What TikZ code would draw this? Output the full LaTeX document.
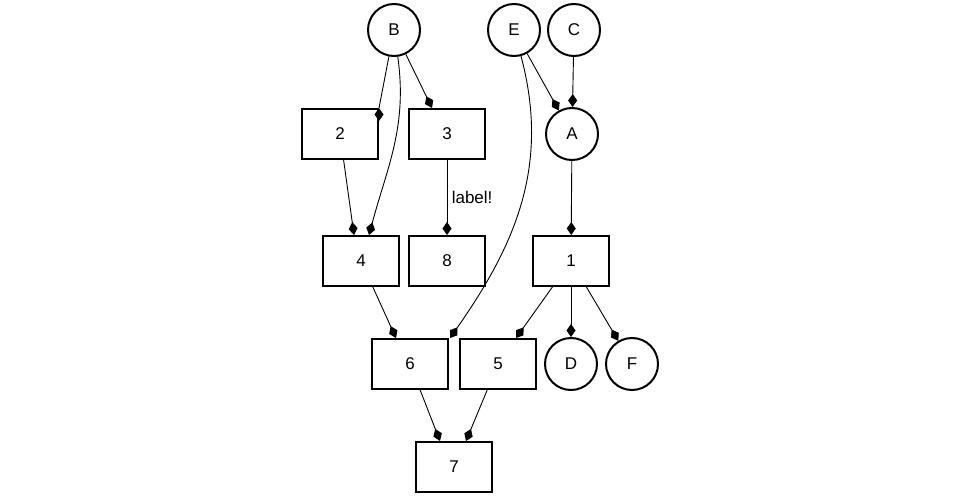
\documentclass[tikz,border=0pt]{standalone}
\usepackage{fontspec}
\setmainfont{Liberation Sans}
\usetikzlibrary{arrows.meta}

\tikzset{
  box/.style={draw, line width=2pt, minimum width=76pt, minimum height=50pt},
  ring/.style={draw, circle, line width=2pt, minimum size=52pt, inner sep=0pt},
  link/.style={line width=0.9pt, -{Diamond[length=13pt,width=9pt]}}
}

\begin{document}
\begin{tikzpicture}[x=1pt, y=-1pt, font=\fontsize{17}{20}\selectfont]
\useasboundingbox (0,0) rectangle (960,500);

% circles
\node[ring] (B) at (394,30) {B};
\node[ring] (E) at (514,30) {E};
\node[ring] (C) at (574,30) {C};
\node[ring] (A) at (572,134) {A};
\node[ring] (D) at (571,364) {D};
\node[ring] (F) at (632,364) {F};

% boxes
\node[box] (n2) at (340,134) {2};
\node[box] (n3) at (447,134) {3};
\node[box] (n4) at (361,261) {4};
\node[box] (n8) at (447,261) {8};
\node[box] (n1) at (571,261) {1};
\node[box] (n6) at (410,364) {6};
\node[box] (n5) at (498,364) {5};
\node[box] (n7) at (454,467) {7};

% edges
\draw[link] (B) -- (n2.north east) ++(0,0);
\draw[link] (B) -- ([xshift=-15pt]n3.north);
\draw[link] (B) to[out=-82,in=75] ([xshift=8pt]n4.north);
\draw[link] (n2) -- ([xshift=-7pt]n4.north);
\draw[link] (n3) -- node[right, xshift=1pt] {label!} (n8);
\draw[link] (E) to[out=-75,in=55] ([xshift=40pt]n6.north);
\draw[link] (E) -- (A);
\draw[link] (C) -- (A);
\draw[link] (A) -- (n1);
\draw[link] (n1) -- ([xshift=18pt]n5.north);
\draw[link] (n1) -- (D);
\draw[link] (n1) -- (F);
\draw[link] (n4) -- ([xshift=-14pt]n6.north);
\draw[link] (n6) -- ([xshift=-14pt]n7.north);
\draw[link] (n5) -- ([xshift=12pt]n7.north);
\end{tikzpicture}
\end{document}
